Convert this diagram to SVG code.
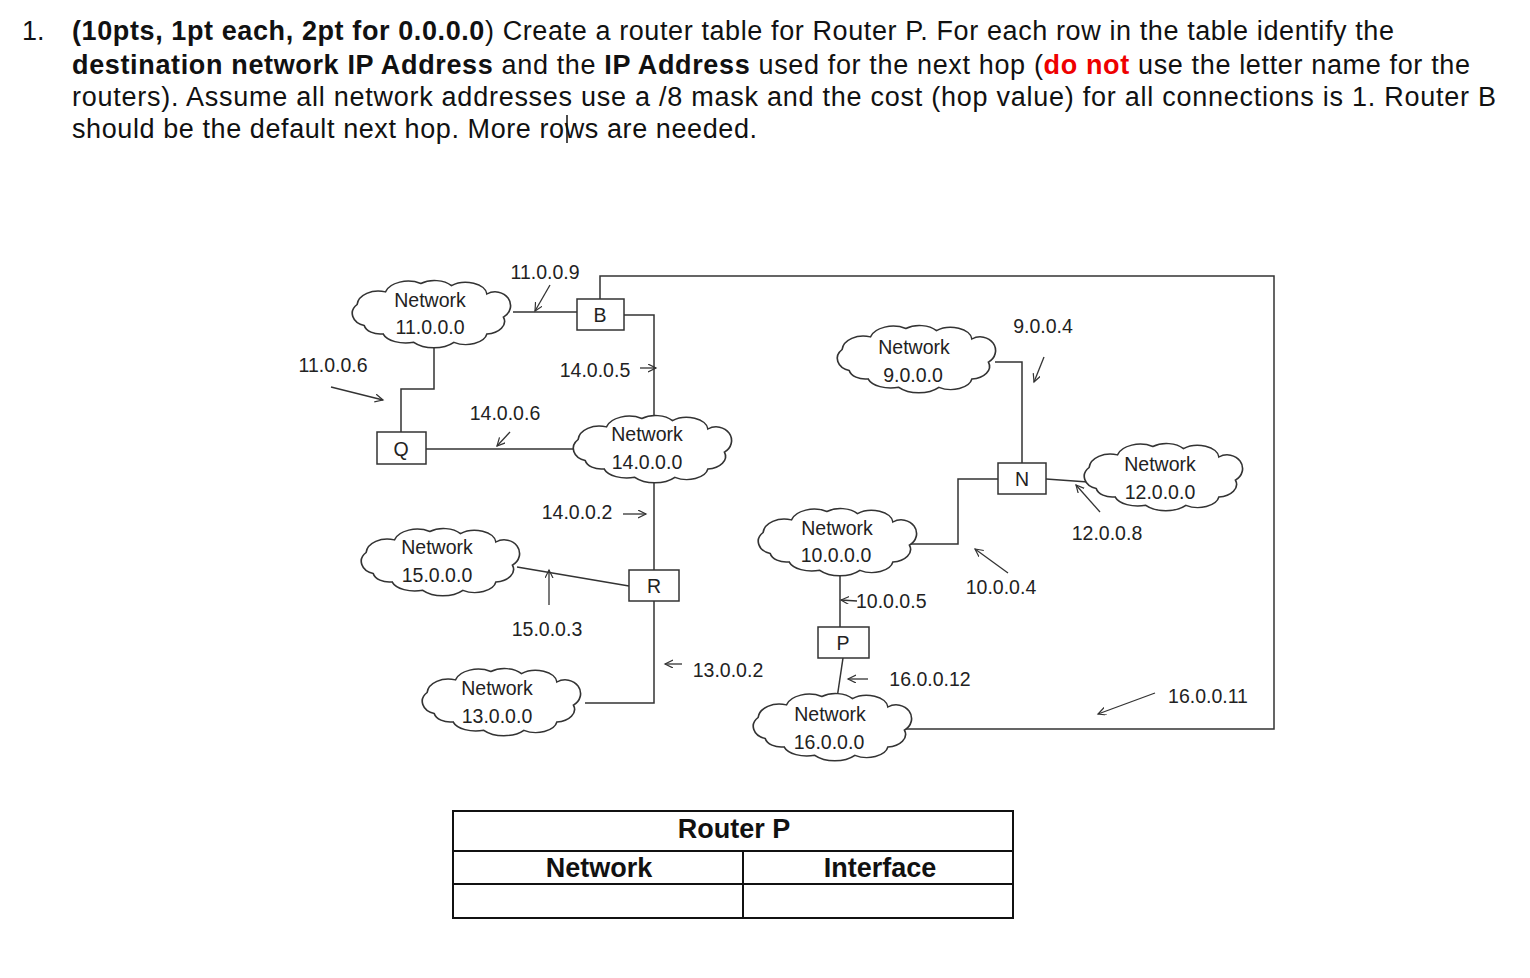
<svg xmlns="http://www.w3.org/2000/svg" width="1530" height="978" viewBox="0 0 1530 978">
<style>
.t{font-family:"Liberation Sans",Arial,sans-serif;font-size:27px;fill:#111}
.b{font-weight:bold}
.l{font-family:"Liberation Sans",Arial,sans-serif;font-size:19.5px;fill:#222}
.c{text-anchor:middle}
.ln{stroke:#333;stroke-width:1.5;fill:none}
.ar{stroke:#333;stroke-width:1.3;fill:none;marker-end:url(#ah)}
.box{fill:#fff;stroke:#333;stroke-width:1.5}
.cl{fill:#fff;stroke:#333;stroke-width:1.4}
</style>
<defs>
<marker id="ah" markerWidth="10" markerHeight="10" refX="8" refY="4" orient="auto" markerUnits="userSpaceOnUse"><path d="M0,0 L8,4 L0,8" fill="none" stroke="#333" stroke-width="1.2"/></marker>
<path id="cloud" d="M -60,10 a 14 12 0 0 1 -6,-20 a 18 14 0 0 1 24,-12 a 20 14 0 0 1 30,-8 a 18 12 0 0 1 26,2 a 18 12 0 0 1 30,8 a 12 12 0 0 1 14,22 a 16 12 0 0 1 -14,16 a 18 12 0 0 1 -28,8 a 22 14 0 0 1 -34,0 a 20 12 0 0 1 -26,-8 a 14 10 0 0 1 -16,-8 z"/>
</defs>
<rect width="1530" height="978" fill="#fff"/>
<g id="question" xml:space="preserve">
<text class="t" x="22" y="40">1.</text>
<text class="t" x="72" y="40" textLength="1322" lengthAdjust="spacing"><tspan class="b">(10pts, 1pt each, 2pt for 0.0.0.0</tspan>) Create a router table for Router P. For each row in the table identify the</text>
<text class="t" x="72" y="74" textLength="1398" lengthAdjust="spacing"><tspan class="b">destination network IP Address</tspan> and the <tspan class="b">IP Address</tspan> used for the next hop (<tspan class="b" fill="#e00">do not</tspan> use the letter name for the</text>
<text class="t" x="72" y="106" textLength="1424" lengthAdjust="spacing">routers).  Assume all network addresses use a /8 mask and the cost (hop value) for all connections is 1.  Router B</text>
<text class="t" x="72" y="138" textLength="685" lengthAdjust="spacing">should be the default next hop. More rows are needed.</text>
<line x1="567" y1="115" x2="567" y2="143" stroke="#111" stroke-width="1.5"/>
</g>
<g id="connectors">
<polyline class="ln" points="513,312 577,312"/>
<polyline class="ln" points="600,299 600,276 1274,276 1274,729 893,729"/>
<polyline class="ln" points="624,315 654,315 654,420"/>
<polyline class="ln" points="654,478 654,570"/>
<polyline class="ln" points="654,601 654,703 585,703"/>
<polyline class="ln" points="434,345 434,389 401,389 401,432"/>
<polyline class="ln" points="426,449 580,449"/>
<polyline class="ln" points="517,567 629,586"/>
<polyline class="ln" points="995,362 1022,362 1022,463"/>
<polyline class="ln" points="998,479 958,479 958,544 905,544"/>
<polyline class="ln" points="1046,479 1088,482"/>
<polyline class="ln" points="840,572 840,627"/>
<polyline class="ln" points="843,658 836,705"/>
<line class="ar" x1="550" y1="285" x2="535" y2="311"/>
<line class="ar" x1="331" y1="387" x2="383" y2="400"/>
<line class="ar" x1="640" y1="368" x2="656" y2="368"/>
<line class="ar" x1="510" y1="432" x2="497" y2="446"/>
<line class="ar" x1="623" y1="514" x2="646" y2="514"/>
<line class="ar" x1="549" y1="605" x2="549" y2="570"/>
<line class="ar" x1="682" y1="664" x2="665" y2="664"/>
<line class="ar" x1="1044" y1="357" x2="1034" y2="382"/>
<line class="ar" x1="1100" y1="512" x2="1076" y2="485"/>
<line class="ar" x1="1008" y1="573" x2="975" y2="549"/>
<line class="ar" x1="857" y1="601" x2="841" y2="600"/>
<line class="ar" x1="868" y1="679" x2="848" y2="679"/>
<line class="ar" x1="1155" y1="693" x2="1098" y2="714"/>
</g>
<g id="labels">
<text class="l c" x="545" y="279">11.0.0.9</text>
<text class="l c" x="333" y="372">11.0.0.6</text>
<text class="l c" x="595" y="377">14.0.0.5</text>
<text class="l c" x="505" y="420">14.0.0.6</text>
<text class="l c" x="577" y="519">14.0.0.2</text>
<text class="l c" x="547" y="636">15.0.0.3</text>
<text class="l c" x="728" y="677">13.0.0.2</text>
<text class="l c" x="1043" y="333">9.0.0.4</text>
<text class="l c" x="1107" y="540">12.0.0.8</text>
<text class="l c" x="1001" y="594">10.0.0.4</text>
<text class="l" x="856" y="608">10.0.0.5</text>
<text class="l c" x="930" y="686">16.0.0.12</text>
<text class="l c" x="1208" y="703">16.0.0.11</text>
</g>
<g id="net11"><use href="#cloud" class="cl" transform="translate(435,315) scale(1.18,1.05)"/><text class="l c" x="430" y="307">Network</text><text class="l c" x="430" y="334">11.0.0.0</text></g>
<g id="net9"><use href="#cloud" class="cl" transform="translate(920,360) scale(1.18,1.05)"/><text class="l c" x="914" y="354">Network</text><text class="l c" x="913" y="382">9.0.0.0</text></g>
<g id="net14"><use href="#cloud" class="cl" transform="translate(656,450) scale(1.18,1.05)"/><text class="l c" x="647" y="441">Network</text><text class="l c" x="647" y="469">14.0.0.0</text></g>
<g id="net12"><use href="#cloud" class="cl" transform="translate(1167,478) scale(1.18,1.05)"/><text class="l c" x="1160" y="471">Network</text><text class="l c" x="1160" y="499">12.0.0.0</text></g>
<g id="net10"><use href="#cloud" class="cl" transform="translate(841,543) scale(1.18,1.05)"/><text class="l c" x="837" y="535">Network</text><text class="l c" x="836" y="562">10.0.0.0</text></g>
<g id="net15"><use href="#cloud" class="cl" transform="translate(444,563) scale(1.18,1.05)"/><text class="l c" x="437" y="554">Network</text><text class="l c" x="437" y="582">15.0.0.0</text></g>
<g id="net13"><use href="#cloud" class="cl" transform="translate(505,703) scale(1.18,1.05)"/><text class="l c" x="497" y="695">Network</text><text class="l c" x="497" y="723">13.0.0.0</text></g>
<g id="net16"><use href="#cloud" class="cl" transform="translate(836,728) scale(1.18,1.05)"/><text class="l c" x="830" y="721">Network</text><text class="l c" x="829" y="749">16.0.0.0</text></g>
<g id="B"><rect class="box" x="577" y="299" width="47" height="31"/><text class="l c" x="600" y="322">B</text></g>
<g id="Q"><rect class="box" x="377" y="432" width="49" height="32"/><text class="l c" x="401" y="456">Q</text></g>
<g id="R"><rect class="box" x="629" y="570" width="50" height="31"/><text class="l c" x="654" y="593">R</text></g>
<g id="N"><rect class="box" x="998" y="463" width="48" height="31"/><text class="l c" x="1022" y="486">N</text></g>
<g id="P"><rect class="box" x="818" y="627" width="51" height="31"/><text class="l c" x="843" y="650">P</text></g>
<g id="table">
<rect x="453" y="811" width="560" height="107" fill="none" stroke="#111" stroke-width="2"/>
<line x1="453" y1="851" x2="1013" y2="851" stroke="#111" stroke-width="2"/>
<line x1="453" y1="884" x2="1013" y2="884" stroke="#111" stroke-width="2"/>
<line x1="743" y1="851" x2="743" y2="918" stroke="#111" stroke-width="2"/>
<text class="t b c" x="734" y="838">Router P</text>
<text class="t b c" x="599" y="877">Network</text>
<text class="t b c" x="880" y="877">Interface</text>
</g>
</svg>
